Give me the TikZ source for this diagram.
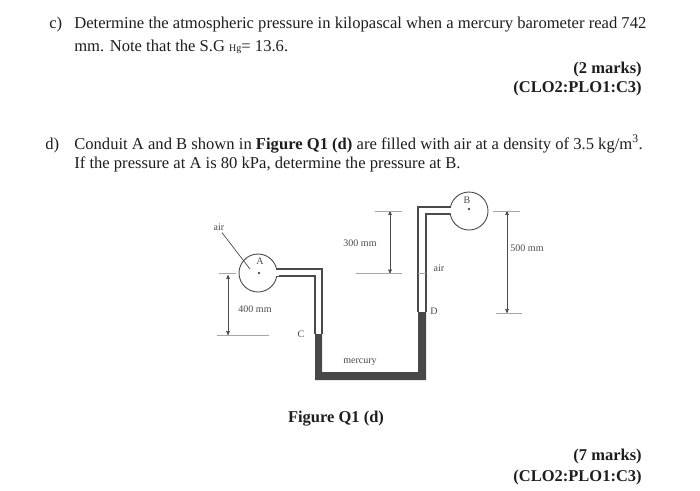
\documentclass[tikz,border=0pt]{standalone}
\usepackage{fontspec}
\setmainfont{Liberation Serif}
\usetikzlibrary{positioning,calc,arrows}
\definecolor{inkline}{HTML}{4A4A4A}
\definecolor{inktext}{HTML}{1E1E1E}
\definecolor{merc}{HTML}{484848}
\begin{document}
\begin{tikzpicture}[x=1pt,y=-1pt, >=stealth', semithick]
	\tikzset{
		para/.style={anchor=base west,inner sep=0pt,text=inktext,font=\fontsize{16.6}{18}\selectfont},
		marks/.style={anchor=base east,inner sep=0pt,text=inktext,font=\fontsize{16.5}{18}\selectfont\bfseries},
		tag/.style={inner sep=0pt,text=inkline,font=\fontsize{10}{11}\selectfont},
		bulb/.style={circle,draw=inkline,line width=0.9pt,minimum size=38pt,inner sep=0pt,fill=white},
		pipe/.style={draw=inkline,line width=1.1pt},
		thin line/.style={draw=black!35,line width=0.7pt},
		dim/.style={<->,draw=inkline,line width=0.6pt}
	}
	\useasboundingbox (0,0) rectangle (700,490);
	% question text
	\node[para] (cl) at (49,28) {c)};
	\node[para] (c1) at (74,28) {Determine the atmospheric pressure in kilopascal when a mercury barometer read 742};
	\node[para] (c2) at (74,51) {mm. Note that the S.G {\fontsize{10}{11}\selectfont Hg}= 13.6.};
	\node[marks] (m1) at (642,73) {(2 marks)};
	\node[marks] (o1) at (642,92) {(CLO2:PLO1:C3)};
	\node[para] (dl) at (45,149) {d)};
	\node[para] (d1) at (74,149) {Conduit A and B shown in \textbf{Figure Q1 (d)} are filled with air at a density of 3.5 kg/m\textsuperscript{3}.};
	\node[para] (d2) at (74,168) {If the pressure at A is 80 kPa, determine the pressure at B.};
	% mercury
	\fill[merc] (315,334) -- (322,334) -- (322,372) -- (418,372) -- (418,312) -- (426,312) -- (426,380) -- (315,380) -- cycle;
	% tubes
	\path[pipe] (277,269) -- (322,269) -- (322,334);
	\path[pipe] (277,276) -- (315,276) -- (315,334);
	\path[pipe] (418,312) -- (418,207) -- (452,207);
	\path[pipe] (426,312) -- (426,214) -- (452,214);
	\draw[thin line] (418,273) -- (426,273);
	% conduits
	\node[bulb] (A) at (258,273) {};
	\node[bulb] (B) at (469,211) {};
	\fill[white] (275,270) rectangle (279,275.5);
	\fill[white] (449,207.7) rectangle (452,213.3);
	\fill[inkline] (259,273) circle (1.4pt);
	\fill[inkline] (469,209) circle (1.4pt);
	\node[tag] (a1) at (260,261) {A};
	\node[tag] (b1) at (467,200) {B};
	\node[tag] (air1) at (219,227) {air};
	\coordinate (air1end) at (250,269);
	\draw[thin line,draw=inkline] (air1.south)++(3,2) -- (air1end);
	% labels
	\node[tag] (c) at (301,334) {C};
	\node[tag] (d) at (434,311) {D};
	\node[tag] (air2) at (439,268) {air};
	\node[tag] (hg) at (360,362) {mercury};
	% dimensions
	\coordinate (p400t) at (228,275);
	\coordinate (p400b) at (228,335);
	\coordinate (p300t) at (390,211);
	\coordinate (p300b) at (390,273.5);
	\coordinate (p500t) at (507,211);
	\coordinate (p500b) at (507,313);
	\draw[dim] (p400t) -- (p400b);
	\draw[dim] (p300t) -- (p300b);
	\draw[dim] (p500t) -- (p500b);
	\node[tag] (l400) at (255,309) {400 mm};
	\node[tag] (l300) at (360,243) {300 mm};
	\node[tag] (l500) at (527,248) {500 mm};
	\draw[thin line] (219,273.5) -- (236,273.5);
	\draw[thin line] (217,335) -- (269,335);
	\draw[thin line] (375,211) -- (402,211);
	\draw[thin line] (356,273.5) -- (402,273.5);
	\draw[thin line] (493,211) -- (520,211);
	\draw[thin line] (496,313) -- (522,313);
	% caption
	\node[marks,anchor=base] (fig) at (336,422) {Figure Q1 (d)};
	\node[marks] (m2) at (642,460) {(7 marks)};
	\node[marks] (o2) at (642,481) {(CLO2:PLO1:C3)};
\end{tikzpicture}
\end{document}
